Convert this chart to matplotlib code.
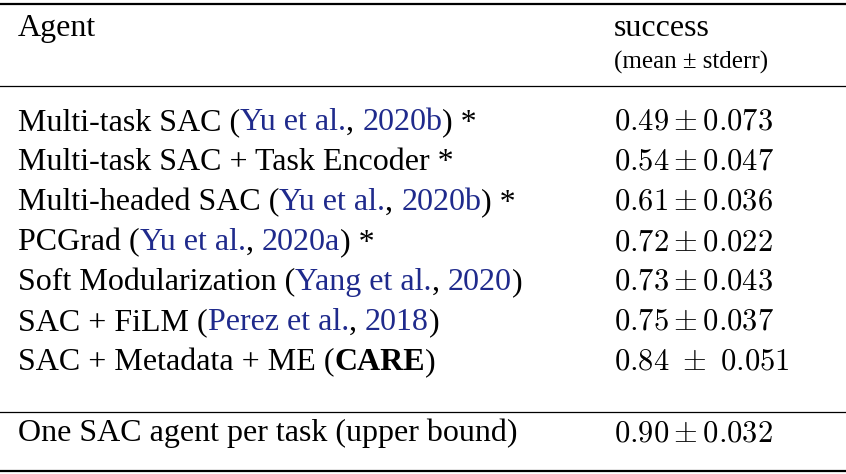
import matplotlib
matplotlib.use("Agg")
import matplotlib.pyplot as plt

plt.rcParams['font.family'] = ['Liberation Serif', 'DejaVu Serif']
plt.rcParams['mathtext.fontset'] = 'cm'

CITE = '#1f2a8c'
BLACK = 'black'

# each agent label is a list of (text, color, bold) segments
agents = [
    [("Multi-task SAC (", BLACK, False), ("Yu et al.", CITE, False), (", ", BLACK, False),
     ("2020b", CITE, False), (") *", BLACK, False)],
    [("Multi-task SAC + Task Encoder *", BLACK, False)],
    [("Multi-headed SAC (", BLACK, False), ("Yu et al.", CITE, False), (", ", BLACK, False),
     ("2020b", CITE, False), (") *", BLACK, False)],
    [("PCGrad (", BLACK, False), ("Yu et al.", CITE, False), (", ", BLACK, False),
     ("2020a", CITE, False), (") *", BLACK, False)],
    [("Soft Modularization (", BLACK, False), ("Yang et al.", CITE, False), (", ", BLACK, False),
     ("2020", CITE, False), (")", BLACK, False)],
    [("SAC + FiLM (", BLACK, False), ("Perez et al.", CITE, False), (", ", BLACK, False),
     ("2018", CITE, False), (")", BLACK, False)],
    [("SAC + Metadata + ME (", BLACK, False), ("CARE", BLACK, True), (")", BLACK, False)],
    [("One SAC agent per task (upper bound)", BLACK, False)],
]
means = ["0.49", "0.54", "0.61", "0.72", "0.73", "0.75", "0.84", "0.90"]
stderrs = ["0.073", "0.047", "0.036", "0.022", "0.043", "0.037", "0.051", "0.032"]
best = 6

W, H = 846, 474
fig = plt.figure(figsize=(W / 100, H / 100), dpi=100)
ax = fig.add_axes([0, 0, 1, 1])
ax.set_xlim(0, W)
ax.set_ylim(H, 0)
ax.axis('off')
fig.canvas.draw()
renderer = fig.canvas.get_renderer()

FS = 23
x_left, x_right = 18, 614


def draw_segments(x, y, segs):
    for txt, col, bold in segs:
        t = ax.text(x, y, txt, color=col, fontsize=FS, va='baseline', ha='left',
                    fontweight='bold' if bold else 'normal')
        bb = t.get_window_extent(renderer)
        x += bb.width
    return x


# rules
ax.plot([0, W], [4, 4], color='black', lw=1.6)
ax.plot([0, W], [86, 86], color='black', lw=0.9)
ax.plot([0, W], [412, 412], color='black', lw=0.9)
ax.plot([0, W], [471, 471], color='black', lw=1.6)

# header
ax.text(x_left, 36, "Agent", fontsize=FS, va='baseline')
ax.text(x_right, 36, "success", fontsize=FS, va='baseline')
ax.text(x_right, 69, "(mean ± stderr)", fontsize=18, va='baseline')

row_y = [130, 170, 210, 250, 290, 330, 370, 441]
for i, (segs, y) in enumerate(zip(agents, row_y)):
    draw_segments(x_left, y, segs)
    if i == best:
        s = r"$\mathbf{%s}\ \pm\ \mathbf{%s}$" % (means[i], stderrs[i])
    else:
        s = r"$%s \pm %s$" % (means[i], stderrs[i])
    ax.text(x_right, y, s, fontsize=22, va='baseline')

fig.savefig("out.png", dpi=100)
